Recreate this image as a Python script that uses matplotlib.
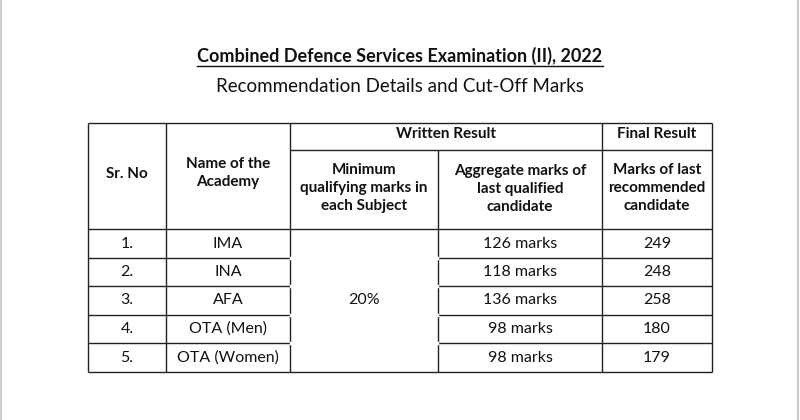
import matplotlib
matplotlib.use("Agg")
import matplotlib.pyplot as plt

title = "Combined Defence Services Examination (II), 2022"
subtitle = "Recommendation Details and Cut-Off Marks"
sr_no = ["1.", "2.", "3.", "4.", "5."]
academies = ["IMA", "INA", "AFA", "OTA (Men)", "OTA (Women)"]
min_marks = "20%"
aggregate = ["126 marks", "118 marks", "136 marks", "98 marks", "98 marks"]
final = ["249", "248", "258", "180", "179"]

plt.rcParams['font.family'] = ['Lato', 'DejaVu Sans']
fig = plt.figure(figsize=(8, 4.2), dpi=100)
ax = fig.add_axes([0, 0, 1, 1])
ax.set_xlim(0, 800); ax.set_ylim(420, 0); ax.axis('off')

xs = [88, 166, 290, 438, 602, 712]
top, mid, hdr = 123, 150, 229
rows = [229, 258, 286, 315, 343, 372]
lc = '#222222'; lw = 1.0
def L(x0, y0, x1, y1):
    ax.plot([x0, x1], [y0, y1], color=lc, lw=lw, solid_capstyle='butt')

L(xs[0], top, xs[-1], top)
L(xs[2], mid, xs[-1], mid)
for y in rows:
    L(xs[0], y, xs[-1], y)
L(xs[3], mid, xs[3], rows[-1])
for x in (xs[0], xs[1], xs[2], xs[4], xs[5]):
    L(x, top, x, rows[-1])
for y in rows[1:-1]:
    ax.plot([xs[2] + 0.8, xs[3] - 0.8], [y, y], color='white', lw=2.5)

ax.plot([1, 1], [0, 420], color='#cccccc', lw=1.5)
ax.plot([798, 798], [0, 420], color='#cccccc', lw=1.5)

tc = '#111111'
ax.text(400, 56, title, ha='center', va='center', fontsize=13, fontweight='bold', color=tc)
ax.plot([197, 603], [66, 66], color=tc, lw=1)
ax.text(400, 86, subtitle, ha='center', va='center', fontsize=13.5, color=tc)

def c(x0, x1): return (x0 + x1) / 2
hf = dict(ha='center', va='center', fontsize=11, fontweight='bold', color=tc, linespacing=1.4)
ax.text(c(xs[2], xs[4]), 134, "Written Result", **hf)
ax.text(c(xs[4], xs[5]), 134, "Final Result", **hf)
ax.text(c(xs[0], xs[1]), 174, "Sr. No", **hf)
ax.text(c(xs[1], xs[2]), 173, "Name of the\nAcademy", **hf)
ax.text(c(xs[2], xs[3]), 188, "Minimum\nqualifying marks in\neach Subject", **hf)
ax.text(c(xs[3], xs[4]), 189, "Aggregate marks of\nlast qualified\ncandidate", **hf)
ax.text(c(xs[4], xs[5]), 188, "Marks of last\nrecommended\ncandidate", **hf)

bf = dict(ha='center', va='center', fontsize=11.5, color=tc)
for i in range(5):
    yc = (rows[i] + rows[i + 1]) / 2
    ax.text(c(xs[0], xs[1]), yc, sr_no[i], **bf)
    ax.text(c(xs[1], xs[2]), yc, academies[i], **bf)
    ax.text(c(xs[3], xs[4]), yc, aggregate[i], **bf)
    ax.text(c(xs[4], xs[5]), yc, final[i], **bf)
ax.text(c(xs[2], xs[3]), (rows[2] + rows[3]) / 2, min_marks, **bf)

fig.savefig("out.png", dpi=100)
